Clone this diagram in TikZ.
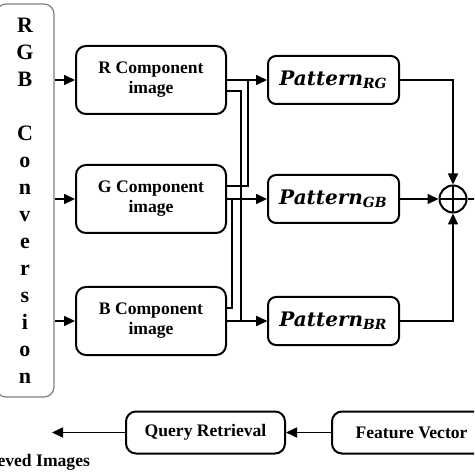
\documentclass[tikz,border=0pt]{standalone}
\usepackage{fontspec}
\setmainfont{Liberation Serif}
\newfontfamily\patfont{DejaVu Serif}
\usetikzlibrary{arrows.meta,positioning,calc}

\begin{document}
\begin{tikzpicture}[
  x=0.5pt, y=-0.5pt,
  box/.style={draw, line width=1pt, rounded corners=5pt, align=center,
              font=\fontsize{8.8}{10}\selectfont\bfseries, inner sep=2pt},
  comp/.style={box, minimum width=75pt, minimum height=34pt},
  pat/.style={box, minimum width=65.5pt, minimum height=24pt, rounded corners=4pt,
              font=\patfont\bfseries\itshape\fontsize{10}{12}\selectfont},
  outbox/.style={box, minimum width=79.5pt, minimum height=21pt},
  conv/.style={draw=gray, line width=0.6pt, rounded corners=5pt, align=center,
               minimum width=29pt, minimum height=196.5pt,
               font=\fontsize{11}{13.5}\selectfont\bfseries},
  sum/.style={draw, circle, line width=1pt, minimum size=13.5pt, inner sep=0pt,
              path picture={\draw[line width=1pt]
                (path picture bounding box.north) -- (path picture bounding box.south)
                (path picture bounding box.west) -- (path picture bounding box.east);}},
  arrow/.style={-{Triangle[length=5.5pt,width=5pt]}, line width=0.8pt},
  wire/.style={line width=0.8pt},
]
\useasboundingbox (0,0) rectangle (474,474);
\clip (0,0) rectangle (474,474);

% --- Conversion ---
\node[conv] (rgb) at (25,200.5) {R\\G\\B\\[13.5pt]C\\o\\n\\v\\e\\r\\s\\i\\o\\n};

% --- Components ---
\node[comp] (r) at (151,80) {R Component\\image};
\node[comp] (g) at (151,199) {G Component\\image};
\node[comp] (b) at (151,321) {B Component\\image};

% --- Patterns ---
\node[pat, right=20pt of r] (rg) {Pattern\textsubscript{RG}};
\node[pat, right=20pt of g] (gb) {Pattern\textsubscript{GB}};
\node[pat, right=20pt of b] (br) {Pattern\textsubscript{BR}};

\node[sum] (sum) at (453,199) {};
\coordinate (out) at (480,199);

% --- Retrieval ---
\node[outbox] (fv) at (411.5,432.5) {Feature Vector};
\node[outbox, left=22.5pt of fv] (qr) {Query Retrieval};
\coordinate[left=36.5pt of qr.west] (ret);
\node[font=\fontsize{8.8}{10}\selectfont\bfseries, anchor=base east] (retimg) at (97,466) {Retrieved Images};

% --- Arrows ---
\foreach \c in {r,g,b}
  \draw[arrow] (rgb.east |- \c.west) -- (\c.west);
\draw[arrow] (r.east) -- (rg.west);
\draw[arrow] (g.east) -- (gb.west);
\draw[arrow] (b.east) -- (br.west);
\draw[wire] ([yshift=6.5pt]g.east) -| ([xshift=10.5pt]r.east);
\draw[arrow] ([yshift=-5.5pt]r.east) -- ++(7pt,0) |- (br.west);
\draw[wire] ([yshift=6.5pt]b.east) -| ([xshift=2.5pt]g.east);

\draw[arrow] (rg.east) -| (sum.north);
\draw[arrow] (gb.east) -- (sum.west);
\draw[arrow] (br.east) -| (sum.south);
\draw[wire] (sum.east) -- (out);

\draw[arrow] (fv.west) -- (qr.east);
\draw[arrow] (qr.west) -- (ret);
\end{tikzpicture}
\end{document}
